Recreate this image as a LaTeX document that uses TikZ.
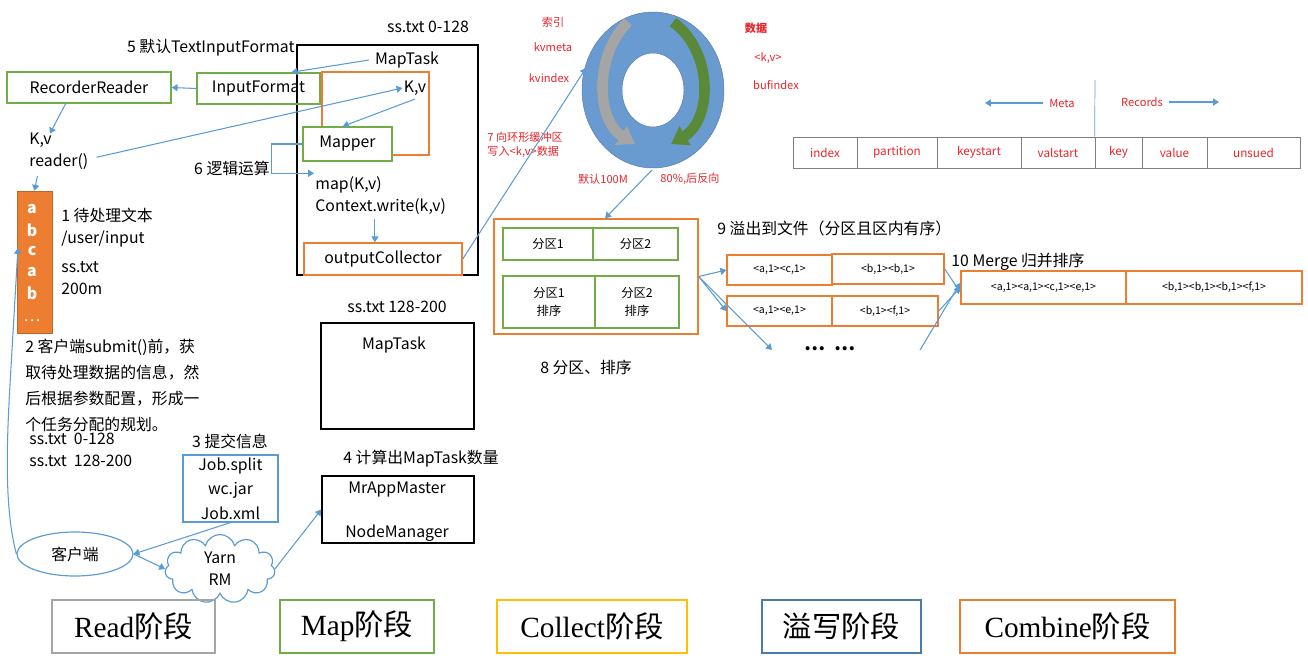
\documentclass[tikz,border=0pt]{standalone}
\usepackage{fontspec}
\setmainfont{Noto Sans CJK SC}
\newfontfamily\serifL{Liberation Serif}
\newfontfamily\cjk{Noto Sans CJK SC}
\usetikzlibrary{fit,shapes.symbols,shapes.geometric,arrows.meta}
\definecolor{ablue}{HTML}{5B9BD5}
\definecolor{rblue}{HTML}{6A9BD0}
\definecolor{agreen}{HTML}{70AD47}
\definecolor{aorange}{HTML}{ED7D31}
\definecolor{ayellow}{HTML}{FFC000}
\definecolor{ared}{HTML}{E8242A}
\definecolor{agray}{HTML}{A5A5A5}
\tikzset{
 T/.style={font=\fontsize{13.5}{15}\selectfont, inner sep=1pt},
 R/.style={font=\fontsize{9.5}{11}\selectfont, text=ared, inner sep=1pt},
 S/.style={font=\fontsize{9}{10}\selectfont, inner sep=0pt},
 gbox/.style={draw=agreen, line width=1.2pt, inner sep=0pt},
 obox/.style={draw=aorange, line width=1.2pt, inner sep=0pt},
 kbox/.style={draw=black, line width=1.2pt, inner sep=0pt},
 tbox/.style={draw=gray, line width=0.6pt, inner sep=0pt},
 arr/.style={draw=ablue, line width=0.9pt, -{Triangle[length=5pt,width=6pt]}},
 leg/.style={line width=1.2pt, inner sep=0pt},
 legt/.style={font=\fontsize{25}{28}\selectfont},
}
\begin{document}
\begin{tikzpicture}[x=0.03cm,y=-0.03cm]
\useasboundingbox (0,0) rectangle (1308,663);
% ---- MapTask 1
\node[T] (t1) at (428,27) {ss.txt 0-128};
\node[kbox, fit={(297,45)(478,275)}] (mt1) {};
\node[T] (mtl) at (407,60) {MapTask};
\node[T, anchor=east] (fmt5) at (296,48) {5 默认TextInputFormat};
\node[gbox, fit={(7,72)(171,103)}] (rr) {};
\node[T] at (rr) {RecorderReader};
\node[gbox, fit={(197,73)(320,104)}] (if) {};
\node[T] at (if) {InputFormat};
\node[obox, fit={(322,72)(429,155)}] (kvb) {};
\node[T] (kv) at (415,88) {K,v};
\node[gbox, fill=white, fit={(303,127)(392,161)}] (mp) {};
\node[T] at (mp) {Mapper};
\node[T] (l6) at (232,168) {6 逻辑运算};
\node[T, anchor=west] (mapk) at (314,185) {map(K,v)};
\node[T, anchor=west] (ctx) at (314,207) {Context.write(k,v)};
\node[obox, fit={(304,243)(462,275)}] (oc) {};
\node[T] at (oc) {outputCollector};
\node[T, anchor=west] (kvr) at (28,140) {K,v};
\node[T, anchor=west] (rd) at (28,162) {reader()};
% input column
\node[fill=aorange, draw=aorange!80!black, fit={(17,191)(52,333)}, inner sep=0pt] (col) {};
\foreach \c [count=\i] in {a,b,c,a,b}
  \node[T, text=white, font=\fontsize{13.5}{15}\selectfont\bfseries] at (32,188+\i*21) {\c};
\node[T, text=white] at (32,321) {\dots};
\node[T, anchor=west] at (60,215) {1 待处理文本};
\node[T, anchor=west] at (60,239) {/user/input};
\node[T, anchor=west] at (60,267) {ss.txt};
\node[T, anchor=west] at (60,289) {200m};
\node[T, anchor=north west, align=left, font=\fontsize{13.5}{22}\selectfont] at (24,338) {2 客户端submit()前，获\\取待处理数据的信息，然\\后根据参数配置，形成一\\个任务分配的规划。};
\node[T, anchor=west] at (28,439) {ss.txt\ \ 0-128};
\node[T, anchor=west] at (28,461) {ss.txt\ \ 128-200};
\node[T] at (230,441) {3 提交信息};
\node[draw=ablue, line width=1pt, fit={(183,455)(278,522)}, inner sep=0pt] (job) {};
\node[T, align=center, font=\fontsize{13.5}{21}\selectfont] at (job) {Job.split\\wc.jar\\Job.xml};
% MapTask 2
\node[T] at (397,307) {ss.txt 128-200};
\node[kbox, fit={(321,323)(474,429)}] (mt2) {};
\node[T] at (394,345) {MapTask};
\node[T] at (421,459) {4 计算出MapTask数量};
\node[kbox, fit={(322,476)(474,543)}] (am) {};
\node[T] at (397,490) {MrAppMaster};
\node[T] at (397,533) {NodeManager};
% client & yarn
\node[draw=ablue, line width=1pt, ellipse, minimum width=116*0.03cm, minimum height=44*0.03cm, T] (cl) at (75,554) {客户端};
\node[draw=ablue, line width=1pt, cloud, cloud puffs=11, aspect=1.8, minimum width=110*0.03cm, minimum height=62*0.03cm, T, align=center, font=\fontsize{13.5}{19}\selectfont] (yarn) at (220,569) {Yarn\\RM};
% ---- ring buffer
\fill[rblue, even odd rule, draw=rblue!80!black] (653,90) ellipse [x radius=71, y radius=78] (653,90) ellipse [x radius=31, y radius=37];
\draw[agray, line width=9pt, -{Triangle[length=14pt,width=18pt]}] (628,22) .. controls (594,55) and (596,120) .. (635,144);
\draw[agreen!80!black, line width=9pt, -{Triangle[length=14pt,width=18pt]}] (673,22) .. controls (714,52) and (712,120) .. (671,144);
\coordinate (ringL) at (586,68);
\coordinate (ringB) at (652,170);
\node[R] at (553,22) {索引};
\node[R] at (553,47) {kvmeta};
\node[R] at (549,78) {kvindex};
\node[R, font=\fontsize{9.5}{11}\selectfont\bfseries] at (756,28) {数据};
\node[R] at (768,58) {<k,v>};
\node[R] at (776,85) {bufindex};
\node[R, anchor=west, align=left, font=\fontsize{9.5}{12}\selectfont] at (486,145) {7 向环形缓冲区\\写入<k,v>数据};
\node[R] at (603,179) {默认100M};
\node[R] at (690,179) {80\%,后反向};
% table
\foreach \a/\b/\t [count=\i] in {793/857/index,857/937/partition,937/1021/keystart,1021/1095/valstart,1095/1142/key,1142/1207/value,1207/1300/unsued}
  \node[tbox, fit={(\a,137)(\b,168)}, label={[R, font=\fontsize{10}{11}\selectfont]center:\t}] (tb\i) {};
\draw[ablue, line width=0.6pt] (1095,80) -- (tb5.north west);
\node[R] (meta) at (1062,103) {Meta};
\node[R] (rec) at (1142,102) {Records};
\coordinate (ml) at (985,103);
\coordinate (rr2) at (1219,102);
\draw[arr] ([xshift=-4pt]meta.west) -- (ml);
\draw[arr] ([xshift=4pt]rec.east) -- (rr2);
% collect box
\node[obox, fit={(494,219)(698,334)}] (cb) {};
\node[gbox, fit={(503,228)(593,260)}, label={[S, font=\fontsize{10.5}{12}\selectfont]center:分区1}] (p1) {};
\node[gbox, fit={(593,228)(678,260)}, label={[S, font=\fontsize{10.5}{12}\selectfont]center:分区2}] (p2) {};
\node[gbox, fit={(503,276)(595,328)}] (p3) {};
\node[S, align=center, font=\fontsize{10.5}{15}\selectfont] at (p3) {分区1\\排序};
\node[gbox, fit={(595,276)(679,328)}] (p4) {};
\node[S, align=center, font=\fontsize{10.5}{15}\selectfont] at (p4) {分区2\\排序};
\node[T] at (586,367) {8 分区、排序};
\node[T, anchor=west] at (716,228) {9 溢出到文件（分区且区内有序）};
\node[obox, fit={(727,255)(832,285)}, label={[S]center:<a,1><c,1>}] (s1) {};
\node[obox, fit={(832,254)(944,284)}, label={[S]center:<b,1><b,1>}] (s2) {};
\node[obox, fit={(727,296)(832,326)}, label={[S]center:<a,1><e,1>}] (s3) {};
\node[obox, fit={(832,296)(938,326)}, label={[S]center:<b,1><f,1>}] (s4) {};
\node[T, font=\fontsize{16}{17}\selectfont\bfseries] (dots) at (830,349) {\dots\ \ \dots};
\coordinate (dl) at (772,350);
\coordinate (dr) at (920,350);
\node[T, anchor=west] at (950,262) {10 Merge 归并排序};
\node[obox, fit={(961,271)(1126,304)}, label={[S]center:<a,1><a,1><c,1><e,1>}] (m1) {};
\node[obox, fit={(1126,271)(1302,304)}, label={[S]center:<b,1><b,1><b,1><f,1>}] (m2) {};
% ---- legend
\node[leg, draw=agray, fit={(52,600)(215,653)}, label={[legt]center:{\serifL Read}{\cjk 阶段}}] (lr) {};
\node[leg, draw=agreen, fit={(280,600)(434,653)}, label={[legt]center:{\serifL Map}{\cjk 阶段}}] (lm) {};
\node[leg, draw=ayellow, fit={(497,600)(687,653)}, label={[legt]center:{\serifL Collect}{\cjk 阶段}}] (lc) {};
\node[leg, draw=ablue!80!black, fit={(762,600)(921,653)}, label={[legt]center:{\cjk 溢写阶段}}] (ls) {};
\node[leg, draw=aorange, fit={(960,600)(1175,653)}, label={[legt]center:{\serifL Combine}{\cjk 阶段}}] (lco) {};
% ---- connectors
\draw[arr] ([xshift=-4pt]mtl.west) -- ([xshift=-25pt]if.north east);
\draw[arr] (if.west) -- (rr.east);
\draw[arr] ([xshift=-20pt]rr.south) -- ([xshift=8pt, yshift=-2pt]kvr.north);
\draw[arr] ([xshift=6pt,yshift=-4pt]rd.north east) -- (kv.west);
\draw[arr] ([yshift=-2pt]kv.south) -- ([xshift=-4pt]mp.north);
\draw[arr] (mp.west) -| (l6.east |- mp.west) |- ([yshift=10pt]mapk.west);
\draw[arr] ([xshift=52pt,yshift=-2pt]ctx.south west) -- ([xshift=52pt]ctx.south west |- oc.north);
\draw[arr] (oc.east) -- (ringL);
\draw[arr] (ringB) -- ([xshift=8pt]cb.north west -| p3.east);
\draw[arr] ([xshift=8pt,yshift=-4pt]rd.south west) -- (col.north);
\draw[arr] (cl.west) .. controls (2,500) and (8,420) .. (12,350) -- ([xshift=1pt]col.south west |- 0,248);
\draw[arr] (job.south) -- (cl.east);
\draw[arr] (cl.east) -- (yarn.west);
\draw[arr] (yarn.east) -- (am.west);
\draw[arr] (cb.east) -- (s1.west);
\draw[arr] (cb.east) -- (s3.west);
\draw[arr] (cb.east) -- (dl);
\draw[arr] (s2.east) -- ([yshift=-4pt]m1.west);
\draw[arr] (s4.east) -- (m1.west);
\draw[arr] (dr) -- ([yshift=4pt]m1.west);
\end{tikzpicture}
\end{document}
